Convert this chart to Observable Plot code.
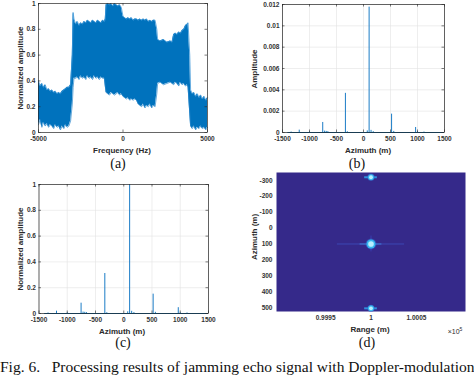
<!DOCTYPE html>
<html>
<head>
<meta charset="utf-8">
<script src="https://cdn.jsdelivr.net/npm/d3@7"></script>
<script src="https://cdn.jsdelivr.net/npm/@observablehq/plot@0.6"></script>
<style>
  html, body { margin: 0; padding: 0; background: #fff; }
  #root { position: relative; width: 474px; height: 375px; overflow: hidden; background: #fff; }
  .panel { position: absolute; }
  .lab { position: absolute; font-family: "Liberation Sans", Arial, sans-serif; font-weight: bold; font-size: 8px; color: #2a2a2a; white-space: nowrap; transform: translate(-50%, -50%); }
  .ylab { transform: translate(-50%, -50%) rotate(-90deg); }
  .sub { position: absolute; font-family: "Liberation Serif", "Times New Roman", serif; font-size: 14px; color: #111; transform: translate(-50%, -50%); }
  .cap { position: absolute; left: 0; top: 358px; font-family: "Liberation Serif", "Times New Roman", serif; font-size: 15.5px; color: #111; white-space: nowrap; }
</style>
</head>
<body>
<div id="root"></div>
<script>
// ---------- Data ----------
// (a) spectrum envelope: frequency (Hz), lower and upper amplitude of the dense band
const freqA = [-5000,-4900,-4800,-4700,-4600,-4500,-4400,-4300,-4200,-4100,-4000,-3900,-3800,-3700,-3600,-3500,-3400,-3300,-3200,-3100,-3000,-2950,-2900,-2800,-2700,-2600,-2500,-2400,-2300,-2200,-2100,-2000,-1900,-1800,-1700,-1600,-1500,-1400,-1300,-1200,-1100,-1050,-1000,-900,-800,-700,-600,-500,-400,-300,-200,-100,0,100,200,300,400,500,600,700,800,900,1000,1100,1200,1300,1400,1500,1600,1700,1800,1900,2000,2050,2200,2400,2600,2800,2900,3000,3100,3200,3300,3400,3500,3600,3700,3800,3850,3950,4000,4100,4200,4300,4400,4500,4600,4700,4800,4900,5000];
const hiA = [0.40,0.36,0.38,0.35,0.37,0.33,0.34,0.32,0.33,0.31,0.32,0.30,0.31,0.30,0.32,0.33,0.34,0.35,0.35,0.37,0.60,0.93,0.88,0.84,0.86,0.83,0.85,0.84,0.86,0.85,0.87,0.86,0.85,0.87,0.86,0.85,0.87,0.86,0.85,0.87,0.86,0.88,0.99,1.00,0.99,1.00,0.98,1.00,0.99,0.98,0.99,0.97,0.90,0.89,0.88,0.89,0.88,0.89,0.87,0.88,0.88,0.87,0.88,0.87,0.88,0.87,0.88,0.86,0.87,0.86,0.87,0.87,0.80,0.72,0.71,0.72,0.70,0.71,0.70,0.76,0.77,0.76,0.78,0.77,0.79,0.80,0.83,0.84,0.85,0.60,0.33,0.30,0.31,0.28,0.30,0.27,0.29,0.26,0.28,0.25,0.27];
const loA = [0.06,0.10,0.04,0.08,0.05,0.07,0.04,0.06,0.05,0.03,0.06,0.04,0.05,0.02,0.05,0.03,0.06,0.04,0.05,0.09,0.22,0.35,0.42,0.42,0.43,0.41,0.44,0.42,0.43,0.41,0.44,0.42,0.43,0.41,0.44,0.42,0.43,0.41,0.43,0.42,0.42,0.36,0.31,0.30,0.29,0.31,0.30,0.29,0.30,0.31,0.29,0.30,0.28,0.27,0.26,0.27,0.25,0.26,0.25,0.26,0.25,0.22,0.21,0.20,0.22,0.19,0.21,0.20,0.22,0.19,0.21,0.20,0.30,0.38,0.39,0.37,0.38,0.39,0.38,0.37,0.39,0.38,0.36,0.39,0.37,0.38,0.36,0.37,0.35,0.15,0.05,0.03,0.05,0.02,0.04,0.03,0.05,0.03,0.04,0.02,0.04];
const xTicksA = [-5000, 0, 5000];
const yTicksA = [0, 0.2, 0.4, 0.6, 0.8, 1];

// (b), (c) azimuth compressed output: main peaks
const peakAz = [-1190, -755, -335, 104, 520, 965];
const peakAmpB = [0.00022, 0.00094, 0.00367, 0.01175, 0.00172, 0.00047];
const peakAmpC = [0.018, 0.08, 0.31, 1.0, 0.15, 0.045];
// minor sidelobes near the base
const sideAz = [-1340, -1000, -720, -690, -660, -300, 70, 140, 180, 560, 1000, 1120];
const sideAmpB = [0.00004, 0.00005, 0.00013, 0.00010, 0.00008, 0.00007, 0.00015, 0.00020, 0.00008, 0.00010, 0.00006, 0.00004];
const sideAmpC = [0.004, 0.005, 0.011, 0.009, 0.007, 0.006, 0.013, 0.017, 0.007, 0.009, 0.005, 0.004];
const xTicksBC = [-1500, -1000, -500, 0, 500, 1000, 1500];
const yTicksB = [0, 0.002, 0.004, 0.006, 0.008, 0.01, 0.012];
const yTicksC = [0, 0.2, 0.4, 0.6, 0.8, 1];

// (d) range-azimuth image: focused points (range in units of 1e5 m)
const spotRange = [1, 1, 1];
const spotAz = [-320, 100, 505];
const spotSize = [0.9, 2.0, 0.9];
const xTicksD = [0.9995, 1, 1.0005];
const yTicksD = [-300, -200, -100, 0, 100, 200, 300, 400, 500];

// ---------- Helpers ----------
const BLUE = "#0072BD";
const AX = "#262626";
const fmt = d => String(d);
const root = document.getElementById("root");

function boxMarks(xt, yt, innerW, innerH, withTicks) {
  const m = [Plot.frame({stroke: AX, strokeWidth: 0.7})];
  if (withTicks) {
    m.push(Plot.tickX(xt, {x: d => d, insetTop: innerH - 2.5, stroke: AX, strokeWidth: 0.6}));
    m.push(Plot.tickX(xt, {x: d => d, insetBottom: innerH - 2.5, stroke: AX, strokeWidth: 0.6}));
    m.push(Plot.tickY(yt, {y: d => d, insetRight: innerW - 2.5, stroke: AX, strokeWidth: 0.6}));
    m.push(Plot.tickY(yt, {y: d => d, insetLeft: innerW - 2.5, stroke: AX, strokeWidth: 0.6}));
  }
  return m;
}

function place(svg, left, top) {
  const d = document.createElement("div");
  d.className = "panel";
  d.style.left = left + "px";
  d.style.top = top + "px";
  d.appendChild(svg);
  root.appendChild(d);
}

function label(text, x, y, cls) {
  const d = document.createElement("div");
  d.className = cls;
  d.style.left = x + "px";
  d.style.top = y + "px";
  d.innerHTML = text;
  root.appendChild(d);
}

const baseStyle = {fontFamily: "'Liberation Sans', Arial, sans-serif", fontSize: "6.5px", fontWeight: "bold", color: "#333", background: "transparent", overflow: "visible"};

// ---------- (a) ----------
{
  const W = 237, H = 160, mt = 3, ml = 38, mr = 30, mb = 28;
  const data = freqA.map((f, i) => ({f, lo: loA[i], hi: hiA[i]}));
  const svg = Plot.plot({
    width: W, height: H, marginTop: mt, marginLeft: ml, marginRight: mr, marginBottom: mb,
    style: baseStyle,
    x: {domain: [-5000, 5000], ticks: xTicksA, tickFormat: fmt, tickSize: 0, tickPadding: 3.5, label: null},
    y: {domain: [0, 1], ticks: yTicksA, tickFormat: fmt, tickSize: 0, tickPadding: 3, label: null},
    marks: [
      Plot.areaY(data, {x: "f", y1: "lo", y2: "hi", fill: BLUE}),
      Plot.lineY(data, {x: "f", y: "hi", stroke: "#3d97d8", strokeWidth: 0.8}),
      Plot.lineY(data, {x: "f", y: "lo", stroke: "#2a86cc", strokeWidth: 0.7}),
      ...boxMarks(xTicksA, yTicksA, W - ml - mr, H - mt - mb, true)
    ]
  });
  place(svg, 0, 0);
  label("Frequency (Hz)", 122, 150, "lab");
  label("Normalized amplitude", 20, 68, "lab ylab");
  label("(a)", 118, 164, "sub");
}

// ---------- (b) ----------
{
  const W = 237, H = 160, mt = 4, ml = 45, mr = 30, mb = 28;
  const svg = Plot.plot({
    width: W, height: H, marginTop: mt, marginLeft: ml, marginRight: mr, marginBottom: mb,
    style: baseStyle,
    x: {domain: [-1500, 1500], ticks: xTicksBC, tickFormat: fmt, tickSize: 0, tickPadding: 3.5, label: null},
    y: {domain: [0, 0.012], ticks: yTicksB, tickFormat: fmt, tickSize: 0, tickPadding: 3, label: null},
    marks: [
      Plot.ruleX(xTicksBC, {x: d => d, stroke: "#e2e2e2", strokeWidth: 0.6}),
      Plot.ruleY(yTicksB, {y: d => d, stroke: "#e2e2e2", strokeWidth: 0.6}),
      Plot.ruleY([0], {x1: -1400, x2: 1500, stroke: BLUE, strokeWidth: 1}),
      Plot.ruleX(sideAz, {x: d => d, y1: 0, y2: (d, i) => sideAmpB[i], stroke: BLUE, strokeWidth: 0.9}),
      Plot.ruleX(peakAz, {x: d => d, y1: 0, y2: (d, i) => peakAmpB[i], stroke: "#1b7cc6", strokeWidth: 1}),
      ...boxMarks(xTicksBC, yTicksB, W - ml - mr, H - mt - mb, true)
    ]
  });
  place(svg, 237, 0);
  label("Azimuth (m)", 368, 150, "lab");
  label("Amplitude", 254, 69, "lab ylab");
  label("(b)", 357, 164, "sub");
}

// ---------- (c) ----------
{
  const W = 237, H = 160, mt = 14, ml = 38.5, mr = 29, mb = 17;
  const svg = Plot.plot({
    width: W, height: H, marginTop: mt, marginLeft: ml, marginRight: mr, marginBottom: mb,
    style: baseStyle,
    x: {domain: [-1500, 1500], ticks: xTicksBC, tickFormat: fmt, tickSize: 0, tickPadding: 3.5, label: null},
    y: {domain: [0, 1], ticks: yTicksC, tickFormat: fmt, tickSize: 0, tickPadding: 3, label: null},
    marks: [
      Plot.ruleX(xTicksBC, {x: d => d, stroke: "#e2e2e2", strokeWidth: 0.6}),
      Plot.ruleY(yTicksC, {y: d => d, stroke: "#e2e2e2", strokeWidth: 0.6}),
      Plot.ruleY([0], {x1: -1400, x2: 1500, stroke: BLUE, strokeWidth: 1}),
      Plot.ruleX(sideAz, {x: d => d, y1: 0, y2: (d, i) => sideAmpC[i], stroke: BLUE, strokeWidth: 0.9}),
      Plot.ruleX(peakAz, {x: d => d, y1: 0, y2: (d, i) => peakAmpC[i], stroke: "#1b7cc6", strokeWidth: 1}),
      ...boxMarks(xTicksBC, yTicksC, W - ml - mr, H - mt - mb, true)
    ]
  });
  place(svg, 0, 170);
  label("Azimuth (m)", 122, 331, "lab");
  label("Normalized amplitude", 20, 249, "lab ylab");
  label("(c)", 123, 343, "sub");
}

// ---------- (d) ----------
{
  const W = 237, H = 160, mt = 2, ml = 39, mr = 9, mb = 19;
  const spots = spotRange.map((r, i) => ({r, a: spotAz[i], s: spotSize[i]}));
  const svg = Plot.plot({
    width: W, height: H, marginTop: mt, marginLeft: ml, marginRight: mr, marginBottom: mb,
    style: baseStyle,
    x: {domain: [0.99896, 1.00104], ticks: xTicksD, tickFormat: fmt, tickSize: 0, tickPadding: 4, label: null},
    y: {domain: [-350, 525], reverse: true, ticks: yTicksD, tickFormat: fmt, tickSize: 0, tickPadding: 4, label: null},
    marks: [
      Plot.frame({fill: "#35298a"}),
      Plot.ruleY([spotAz[1]], {x1: 0.99963, x2: 1.00037, stroke: "#3d4fc0", strokeWidth: 0.8}),
      Plot.ruleY([spotAz[1]], {x1: 0.99988, x2: 1.00012, stroke: "#3f7bd8", strokeWidth: 1}),
      Plot.ruleX([spotRange[1]], {y1: 50, y2: 150, stroke: "#3a43b8", strokeWidth: 0.8}),
      Plot.ruleY([spotAz[0], spotAz[2]], {x1: 0.99993, x2: 1.00007, stroke: "#2f8fdc", strokeWidth: 2}),
      Plot.dot(spots, {x: "r", y: "a", r: d => d.s * 1.5, fill: "#2f6fd6", fillOpacity: 0.5, stroke: null}),
      Plot.dot(spots, {x: "r", y: "a", r: "s", fill: "#35b6ef", stroke: null}),
      Plot.dot(spots, {x: "r", y: "a", r: d => d.s * 0.4, fill: "#b8efff", stroke: null})
    ]
  });
  place(svg, 237, 170);
  label("Range (m)", 370, 329, "lab");
  label("Azimuth (m)", 254, 237, "lab ylab");
  label("<span style='font-weight:normal;font-size:7px'>&times;10<sup style='font-size:5px'>5</sup></span>", 455, 331, "lab");
  label("(d)", 367, 343, "sub");
}

// ---------- caption ----------
const cap = document.createElement("div");
cap.className = "cap";
cap.innerHTML = "Fig. 6.&nbsp;&nbsp;&nbsp;Processing results of jamming echo signal with Doppler-modulation";
root.appendChild(cap);
</script>
</body>
</html>
